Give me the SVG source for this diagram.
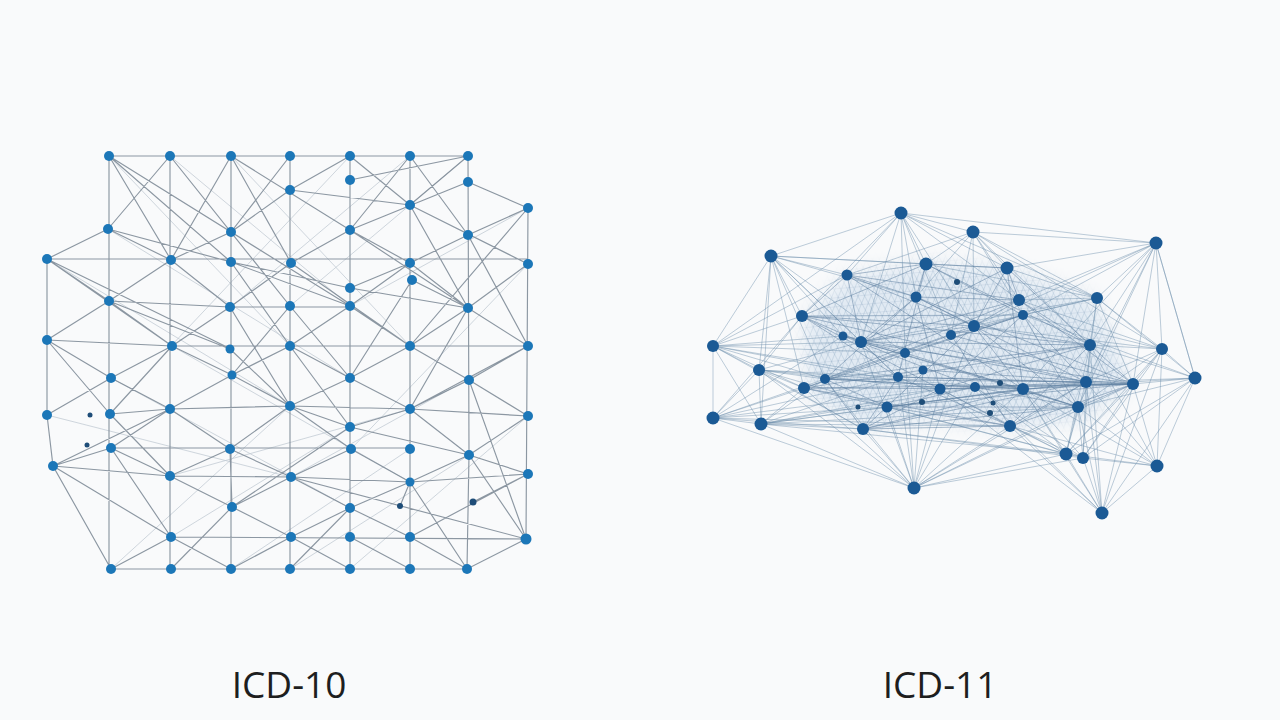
<svg xmlns="http://www.w3.org/2000/svg" width="1280" height="720" viewBox="0 0 1280 720">
<style>
.bg{fill:#f9fafb}
.le{fill:none;stroke:#7f8c98;stroke-width:1.15;stroke-opacity:.9}
.lf{fill:none;stroke:#c3ccd4;stroke-width:1;stroke-opacity:.8}
.re{fill:none;stroke:#6a8bab;stroke-width:.8;stroke-opacity:.55}
.rc{fill:none;stroke:#5a7d9f;stroke-width:.85;stroke-opacity:.6}
.ln circle{fill:#1c77b8}
.rn circle{fill:#1b5a95}
.sd circle{fill:#1e4d78}
.lab{font-family:"Open Sans","Noto Sans","Liberation Sans",sans-serif;font-size:37px;fill:#1e1e1e;text-anchor:middle}
</style>
<defs>
<pattern id="h1" width="6" height="6" patternUnits="userSpaceOnUse" patternTransform="rotate(22)">
<path d="M0 0 V6" stroke="#6f90b0" stroke-width=".8" stroke-opacity=".55"/>
</pattern>
<pattern id="h2" width="6" height="6" patternUnits="userSpaceOnUse" patternTransform="rotate(-28)">
<path d="M0 0 V6" stroke="#6f90b0" stroke-width=".8" stroke-opacity=".5"/>
</pattern>
<pattern id="h3" width="9" height="9" patternUnits="userSpaceOnUse" patternTransform="rotate(85)">
<path d="M0 0 V9" stroke="#6f90b0" stroke-width=".7" stroke-opacity=".4"/>
</pattern>
<polygon id="core" points="805,318 847,276 926,263 1007,268 1095,300 1130,384 1086,418 1010,428 940,418 863,428 808,394"/>
<filter id="blur" x="-20%" y="-20%" width="140%" height="140%"><feGaussianBlur stdDeviation="9"/></filter>
<mask id="cm" maskUnits="userSpaceOnUse" x="0" y="0" width="1280" height="720">
<use href="#core" fill="#fff" filter="url(#blur)"/>
</mask>
</defs>
<rect class="bg" width="1280" height="720"/>

<g id="connectors">
<path class="lf" d="M109 156 L290 346 M170 156 L350 306 M231 156 L410 346 M47 259 L290 406 M108 229 L350 378 M47 415 L290 477 M170 476 L410 409 M231 569 L410 449 M290 569 L469 455 M350 569 L528 416 M111 569 L290 406 M171 537 L350 427 M468 156 L290 306 M528 208 L350 306 M410 156 L231 307 M350 156 L171 346 M528 264 L351 449 M528 346 L291 477 M111 378 L350 508 M172 346 L410 482"/>
<path class="le" d="M109 156 H468 M111 569 H467 L526 539
M109 156 V569 M170 156 V569 M231 156 V569 M290 156 V569 M350 156 V569 M410 156 V569 M468 156 L469 455 L467 569 M528 208 L526 539 M47 259 V415
M47 259 L108 229 M47 415 L53 466 L111 569 M468 182 L528 208
M47 259 H528 M47 340 L172 346 H528 M110 414 L170 409 L290 406 L410 409 L528 416 M111 448 H410 M53 466 L170 476 L291 477 L410 482 L528 474 M171 537 L526 539 M109 301 L230 307 H350
M109 156 L171 260 M109 156 L231 262 M170 156 L108 229 M231 156 L171 260 M231 156 L291 263 M231 156 L350 230 M290 156 L231 232 M290 190 L231 232 M290 190 L410 205 M350 156 L290 190 M350 156 L410 205 M350 180 L468 156 M410 156 L468 235 M410 156 L350 230 M468 156 L410 205 M468 182 L350 230 M410 205 L528 264 M410 205 L468 308 M528 208 L468 235 M528 208 L410 346 M468 235 L410 263 M468 235 L528 346 M108 229 L171 260 M108 229 L231 262 M47 259 L109 301 M47 259 L172 346 M171 260 L109 301 M171 260 L230 307 M171 260 L231 232 M231 232 L350 306 M231 262 L350 306 M231 262 L290 346 M291 263 L350 230 M291 263 L230 307 M291 263 L410 346 M350 230 L410 263 M350 230 L468 308 M410 263 L350 306 M410 263 L468 308 M412 280 L468 308 M412 280 L350 378 M528 264 L468 308 M528 346 L468 308 M528 346 L469 380 M109 301 L172 346 M109 301 L230 349 M109 301 L47 340 M230 307 L172 346 M230 307 L290 406 M290 306 L350 378 M290 306 L232 375 M350 306 L410 346 M350 306 L290 346 M468 308 L410 346 M468 308 L410 409 M47 340 L111 378 M47 340 L110 414 M172 346 L111 378 M172 346 L232 375 M172 346 L110 414 M230 349 L290 406 M290 346 L232 375 M290 346 L350 378 M290 346 L350 427 M410 346 L350 378 M410 346 L469 380 M528 346 L410 409 M111 378 L170 409 M111 378 L47 415 M232 375 L170 409 M232 375 L290 406 M350 378 L410 409 M350 378 L290 406 M469 380 L410 409 M469 380 L528 416 M469 380 L526 539 M110 414 L170 476 M170 409 L111 448 M170 409 L230 449 M290 406 L230 449 M290 406 L350 427 M290 406 L351 449 M410 409 L350 427 M410 409 L469 455 M528 416 L469 455 M111 448 L53 466 M111 448 L170 476 M111 448 L171 537 M230 449 L170 476 M230 449 L291 477 M230 449 L232 507 M351 449 L291 477 M351 449 L410 482 M469 455 L410 482 M469 455 L528 474 M469 455 L526 539 M53 466 L171 537 M53 466 L170 409 M170 476 L232 507 M291 477 L232 507 M291 477 L350 508 M291 477 L526 539 M410 482 L350 508 M410 482 L467 569 M232 507 L171 569 M232 507 L291 537 M350 508 L291 537 M350 508 L410 537 M350 508 L290 569 M410 537 L467 569 M171 537 L111 569 M171 537 L231 569 M291 537 L231 569 M291 537 L350 569 M350 537 L410 569 M528 474 L410 537 M109 156 L350 306 M170 156 L290 306 M47 259 L231 349 M350 288 L410 263 M350 288 L231 262 M350 288 L468 308 M350 427 L469 455 M350 427 L232 507 M528 474 L473 502 M410 482 L400 506"/>

<g id="core-mesh" mask="url(#cm)">
<rect x="760" y="230" width="420" height="240" fill="#e1eaf3"/>
<rect x="760" y="230" width="420" height="240" fill="url(#h1)"/>
<rect x="760" y="230" width="420" height="240" fill="url(#h2)"/>
<rect x="760" y="230" width="420" height="240" fill="url(#h3)"/>
</g>

<path class="re" d="M901 213 L771 256 M901 213 L973 232 M901 213 L847 275 M901 213 L926 264 M901 213 L916 297 M901 213 L802 316 M901 213 L1007 268 M901 213 L1019 300 M901 213 L861 342 M901 213 L974 326 M901 213 L1097 298 M901 213 L951 335 M901 213 L905 353 M901 213 L1156 243 M901 213 L713 346
M973 232 L1156 243 M973 232 L926 264 M973 232 L1007 268 M973 232 L916 297 M973 232 L1019 300 M973 232 L1097 298 M973 232 L974 326 M973 232 L1023 315 M973 232 L951 335 M973 232 L847 275 M973 232 L1090 345 M973 232 L1162 349
M1156 243 L1097 298 M1156 243 L1162 349 M1156 243 L1090 345 M1156 243 L1195 378 M1156 243 L1133 384 M1156 243 L1086 382 M1156 243 L1023 315 M1156 243 L1019 300 M1156 243 L1007 268 M1156 243 L1078 407 M1156 243 L1023 389 M1156 243 L974 326
M771 256 L713 346 M771 256 L802 316 M771 256 L847 275 M771 256 L926 264 M771 256 L861 342 M771 256 L843 336 M771 256 L759 370 M771 256 L825 379 M771 256 L804 388 M771 256 L916 297 M771 256 L905 353 M771 256 L898 377 M771 256 L761 424 M771 256 L1007 268
M713 346 L802 316 M713 346 L843 336 M713 346 L861 342 M713 346 L759 370 M713 346 L804 388 M713 346 L825 379 M713 346 L713 418 M713 346 L761 424 M713 346 L898 377 M713 346 L905 353 M713 346 L863 429 M713 346 L847 275 M713 346 L940 389
M713 418 L759 370 M713 418 L804 388 M713 418 L825 379 M713 418 L761 424 M713 418 L863 429 M713 418 L887 407 M713 418 L898 377 M713 418 L802 316 M713 418 L843 336 M713 418 L914 488 M713 418 L940 389 M713 418 L1010 426
M761 424 L759 370 M761 424 L804 388 M761 424 L825 379 M761 424 L863 429 M761 424 L887 407 M761 424 L940 389 M761 424 L975 387 M761 424 L1010 426 M761 424 L1066 454 M761 424 L898 377 M761 424 L1023 389 M761 424 L914 488 M761 424 L1078 407
M759 370 L802 316 M759 370 L804 388 M759 370 L825 379 M759 370 L861 342 M759 370 L898 377 M759 370 L863 429 M759 370 L940 389 M759 370 L1023 389 M759 370 L887 407
M914 488 L804 388 M914 488 L825 379 M914 488 L863 429 M914 488 L887 407 M914 488 L898 377 M914 488 L940 389 M914 488 L975 387 M914 488 L1010 426 M914 488 L1023 389 M914 488 L1078 407 M914 488 L1066 454 M914 488 L1086 382 M914 488 L923 370 M914 488 L905 353 M914 488 L861 342 M914 488 L1133 384 M914 488 L759 370 M914 488 L974 326 M914 488 L1083 458
M1102 513 L1066 454 M1102 513 L1083 458 M1102 513 L1010 426 M1102 513 L1078 407 M1102 513 L1086 382 M1102 513 L1133 384 M1102 513 L1157 466 M1102 513 L1023 389 M1102 513 L975 387 M1102 513 L1195 378 M1102 513 L1162 349 M1102 513 L1090 345 M1102 513 L940 389
M1157 466 L1195 378 M1157 466 L1133 384 M1157 466 L1086 382 M1157 466 L1078 407 M1157 466 L1083 458 M1157 466 L1066 454 M1157 466 L1162 349 M1157 466 L1090 345 M1157 466 L1023 389 M1157 466 L1010 426
M1195 378 L1162 349 M1195 378 L1156 243 M1195 378 L1097 298 M1195 378 L1090 345 M1195 378 L1133 384 M1195 378 L1086 382 M1195 378 L1078 407 M1195 378 L1083 458 M1195 378 L1066 454 M1195 378 L1023 389 M1195 378 L1023 315
M1162 349 L1097 298 M1162 349 L1090 345 M1162 349 L1133 384 M1162 349 L1086 382 M1162 349 L1078 407 M1162 349 L1023 315 M1162 349 L1019 300 M1162 349 L1066 454 M1162 349 L1083 458 M1162 349 L974 326
M1066 454 L1010 426 M1066 454 L1023 389 M1066 454 L975 387 M1066 454 L940 389 M1066 454 L1078 407 M1066 454 L1086 382 M1066 454 L1133 384 M1066 454 L863 429 M1066 454 L887 407 M1066 454 L1090 345
M1083 458 L1010 426 M1083 458 L1023 389 M1083 458 L975 387 M1083 458 L1078 407 M1083 458 L1086 382 M1083 458 L1133 384 M1083 458 L887 407 M1083 458 L863 429 M1083 458 L1090 345
M1097 298 L1019 300 M1097 298 L1023 315 M1097 298 L1090 345 M1097 298 L1133 384 M1097 298 L1086 382 M1097 298 L974 326 M1097 298 L1007 268 M1097 298 L926 264 M1097 298 L861 342"/>

<path class="rc" d="M847 275 L926 264 M847 275 L916 297 M847 275 L802 316 M847 275 L861 342 M847 275 L1019 300 M847 275 L1023 389 M847 275 L974 326
M926 264 L1007 268 M926 264 L916 297 M926 264 L802 316 M926 264 L1090 345 M926 264 L1023 315 M926 264 L898 377
M916 297 L1019 300 M916 297 L861 342 M916 297 L974 326 M916 297 L825 379 M916 297 L1086 382 M916 297 L940 389 M916 297 L1133 384
M802 316 L861 342 M802 316 L1023 315 M802 316 L898 377 M802 316 L974 326 M802 316 L940 389 M802 316 L1090 345 M802 316 L1086 382
M1007 268 L1019 300 M1007 268 L1090 345 M1007 268 L974 326 M1007 268 L861 342 M1007 268 L1023 389
M1019 300 L1090 345 M1019 300 L974 326 M1019 300 L861 342 M1019 300 L825 379 M1019 300 L1133 384
M1023 315 L1086 382 M1023 315 L951 335 M1023 315 L804 388 M1023 315 L1078 407 M1023 315 L940 389
M861 342 L974 326 M861 342 L1090 345 M861 342 L898 377 M861 342 L1023 389 M861 342 L1078 407 M861 342 L1133 384
M843 336 L1086 382 M843 336 L975 387 M843 336 L905 353
M974 326 L1090 345 M974 326 L825 379 M974 326 L1023 389 M974 326 L863 429 M974 326 L1078 407
M951 335 L804 388 M951 335 L1133 384 M951 335 L1010 426
M1090 345 L898 377 M1090 345 L825 379 M1090 345 L940 389 M1090 345 L1010 426 M1090 345 L1133 384
M825 379 L1086 382 M825 379 L1023 389 M825 379 L975 387 M825 379 L887 407 M825 379 L863 429
M804 388 L1023 389 M804 388 L1133 384 M804 388 L887 407 M804 388 L1010 426
M898 377 L1086 382 M898 377 L1133 384 M898 377 L1010 426 M898 377 L863 429
M905 353 L1078 407 M905 353 L1023 315 M923 370 L1133 384 M923 370 L804 388
M940 389 L1086 382 M940 389 L1133 384 M940 389 L863 429 M940 389 L1010 426
M975 387 L1133 384 M975 387 L1078 407 M975 387 L887 407
M1023 389 L1133 384 M1023 389 L863 429 M1023 389 L887 407 M1023 389 L1078 407
M1086 382 L1010 426 M1086 382 L887 407 M1086 382 L863 429
M1078 407 L863 429 M1078 407 L887 407 M1010 426 L863 429 M1010 426 L887 407
M1133 384 L1010 426 M1133 384 L1078 407 M1133 384 L887 407"/>
</g>

<g class="ln">
<g id="a01"><circle cx="109" cy="156" r="5"/></g>
<g id="a02"><circle cx="170" cy="156" r="5"/></g>
<g id="a03"><circle cx="231" cy="156" r="5"/></g>
<g id="a04"><circle cx="290" cy="156" r="5"/></g>
<g id="a05"><circle cx="350" cy="156" r="5"/></g>
<g id="a06"><circle cx="410" cy="156" r="5"/></g>
<g id="a07"><circle cx="468" cy="156" r="5"/></g>
<g id="a08"><circle cx="290" cy="190" r="5"/></g>
<g id="a09"><circle cx="350" cy="180" r="5"/></g>
<g id="a10"><circle cx="468" cy="182" r="5"/></g>
<g id="a11"><circle cx="410" cy="205" r="5"/></g>
<g id="a12"><circle cx="528" cy="208" r="5"/></g>
<g id="a13"><circle cx="108" cy="229" r="5"/></g>
<g id="a14"><circle cx="231" cy="232" r="5"/></g>
<g id="a15"><circle cx="350" cy="230" r="5"/></g>
<g id="a16"><circle cx="468" cy="235" r="5"/></g>
<g id="a17"><circle cx="47" cy="259" r="5"/></g>
<g id="a18"><circle cx="171" cy="260" r="5"/></g>
<g id="a19"><circle cx="231" cy="262" r="5"/></g>
<g id="a20"><circle cx="291" cy="263" r="5"/></g>
<g id="a21"><circle cx="410" cy="263" r="5"/></g>
<g id="a22"><circle cx="528" cy="264" r="5"/></g>
<g id="a23"><circle cx="412" cy="280" r="5"/></g>
<g id="a24"><circle cx="350" cy="288" r="5"/></g>
<g id="a25"><circle cx="109" cy="301" r="5"/></g>
<g id="a26"><circle cx="230" cy="307" r="5"/></g>
<g id="a27"><circle cx="290" cy="306" r="5"/></g>
<g id="a28"><circle cx="350" cy="306" r="5"/></g>
<g id="a29"><circle cx="468" cy="308" r="5"/></g>
<g id="a30"><circle cx="47" cy="340" r="5"/></g>
<g id="a31"><circle cx="172" cy="346" r="5"/></g>
<g id="a32"><circle cx="230" cy="349" r="4.5"/></g>
<g id="a33"><circle cx="290" cy="346" r="5"/></g>
<g id="a34"><circle cx="410" cy="346" r="5"/></g>
<g id="a35"><circle cx="528" cy="346" r="5"/></g>
<g id="a36"><circle cx="232" cy="375" r="4.5"/></g>
<g id="a37"><circle cx="111" cy="378" r="5"/></g>
<g id="a38"><circle cx="350" cy="378" r="5"/></g>
<g id="a39"><circle cx="469" cy="380" r="5"/></g>
<g id="a40"><circle cx="47" cy="415" r="5"/></g>
<g id="a41"><circle cx="110" cy="414" r="5"/></g>
<g id="a42"><circle cx="170" cy="409" r="5"/></g>
<g id="a43"><circle cx="290" cy="406" r="5"/></g>
<g id="a44"><circle cx="410" cy="409" r="5"/></g>
<g id="a45"><circle cx="528" cy="416" r="5"/></g>
<g id="a46"><circle cx="350" cy="427" r="5"/></g>
<g id="a47"><circle cx="111" cy="448" r="5"/></g>
<g id="a48"><circle cx="230" cy="449" r="5"/></g>
<g id="a49"><circle cx="351" cy="449" r="5"/></g>
<g id="a50"><circle cx="410" cy="449" r="5"/></g>
<g id="a51"><circle cx="469" cy="455" r="5"/></g>
<g id="a52"><circle cx="53" cy="466" r="5"/></g>
<g id="a53"><circle cx="170" cy="476" r="5"/></g>
<g id="a54"><circle cx="291" cy="477" r="5"/></g>
<g id="a55"><circle cx="410" cy="482" r="4.5"/></g>
<g id="a56"><circle cx="528" cy="474" r="5"/></g>
<g id="a57"><circle cx="232" cy="507" r="5"/></g>
<g id="a58"><circle cx="350" cy="508" r="5"/></g>
<g id="a59"><circle cx="171" cy="537" r="5"/></g>
<g id="a60"><circle cx="291" cy="537" r="5"/></g>
<g id="a61"><circle cx="350" cy="537" r="5"/></g>
<g id="a62"><circle cx="410" cy="537" r="5"/></g>
<g id="a63"><circle cx="526" cy="539" r="5.5"/></g>
<g id="a64"><circle cx="111" cy="569" r="5"/></g>
<g id="a65"><circle cx="171" cy="569" r="5"/></g>
<g id="a66"><circle cx="231" cy="569" r="5"/></g>
<g id="a67"><circle cx="290" cy="569" r="5"/></g>
<g id="a68"><circle cx="350" cy="569" r="5"/></g>
<g id="a69"><circle cx="410" cy="569" r="5"/></g>
<g id="a70"><circle cx="467" cy="569" r="5"/></g>
</g>
<g class="sd">
<g id="a71"><circle cx="90" cy="415" r="2.5"/></g>
<g id="a72"><circle cx="87" cy="445" r="2.5"/></g>
<g id="a73"><circle cx="400" cy="506" r="3"/></g>
<g id="a74"><circle cx="473" cy="502" r="3.5"/></g>
</g>

<g class="rn">
<g id="b01"><circle cx="901" cy="213" r="6.5"/></g>
<g id="b02"><circle cx="973" cy="232" r="6.5"/></g>
<g id="b03"><circle cx="1156" cy="243" r="6.5"/></g>
<g id="b04"><circle cx="771" cy="256" r="6.5"/></g>
<g id="b05"><circle cx="847" cy="275" r="5.5"/></g>
<g id="b06"><circle cx="926" cy="264" r="6.5"/></g>
<g id="b07"><circle cx="1007" cy="268" r="6.5"/></g>
<g id="b08"><circle cx="916" cy="297" r="5.5"/></g>
<g id="b09"><circle cx="1097" cy="298" r="6"/></g>
<g id="b10"><circle cx="1019" cy="300" r="6"/></g>
<g id="b11"><circle cx="802" cy="316" r="6"/></g>
<g id="b12"><circle cx="1023" cy="315" r="5"/></g>
<g id="b13"><circle cx="713" cy="346" r="6"/></g>
<g id="b14"><circle cx="861" cy="342" r="6"/></g>
<g id="b15"><circle cx="843" cy="336" r="4.5"/></g>
<g id="b16"><circle cx="974" cy="326" r="6"/></g>
<g id="b17"><circle cx="951" cy="335" r="5"/></g>
<g id="b18"><circle cx="1090" cy="345" r="6"/></g>
<g id="b19"><circle cx="1162" cy="349" r="6"/></g>
<g id="b20"><circle cx="759" cy="370" r="6"/></g>
<g id="b21"><circle cx="825" cy="379" r="5"/></g>
<g id="b22"><circle cx="804" cy="388" r="6"/></g>
<g id="b23"><circle cx="898" cy="377" r="5"/></g>
<g id="b24"><circle cx="905" cy="353" r="5"/></g>
<g id="b25"><circle cx="923" cy="370" r="4.5"/></g>
<g id="b26"><circle cx="940" cy="389" r="5.5"/></g>
<g id="b27"><circle cx="975" cy="387" r="5"/></g>
<g id="b28"><circle cx="1023" cy="389" r="6"/></g>
<g id="b29"><circle cx="1086" cy="382" r="6"/></g>
<g id="b30"><circle cx="1133" cy="384" r="6"/></g>
<g id="b31"><circle cx="1195" cy="378" r="6.5"/></g>
<g id="b32"><circle cx="713" cy="418" r="6.5"/></g>
<g id="b33"><circle cx="761" cy="424" r="6.5"/></g>
<g id="b34"><circle cx="863" cy="429" r="6"/></g>
<g id="b35"><circle cx="887" cy="407" r="5.5"/></g>
<g id="b36"><circle cx="1078" cy="407" r="6"/></g>
<g id="b37"><circle cx="1010" cy="426" r="6"/></g>
<g id="b38"><circle cx="1066" cy="454" r="6.5"/></g>
<g id="b39"><circle cx="1083" cy="458" r="6"/></g>
<g id="b40"><circle cx="1157" cy="466" r="6.5"/></g>
<g id="b41"><circle cx="914" cy="488" r="6.5"/></g>
<g id="b42"><circle cx="1102" cy="513" r="6.5"/></g>
</g>
<g class="sd">
<g id="b43"><circle cx="957" cy="282" r="3"/></g>
<g id="b44"><circle cx="1000" cy="383" r="3"/></g>
<g id="b45"><circle cx="858" cy="407" r="2.5"/></g>
<g id="b46"><circle cx="922" cy="402" r="3"/></g>
<g id="b47"><circle cx="990" cy="413" r="3"/></g>
<g id="b48"><circle cx="993" cy="403" r="2.5"/></g>
</g>

<g id="labels">
<text class="lab" x="289" y="698">ICD-10</text>
<text class="lab" x="940" y="698">ICD-11</text>
</g>
</svg>
